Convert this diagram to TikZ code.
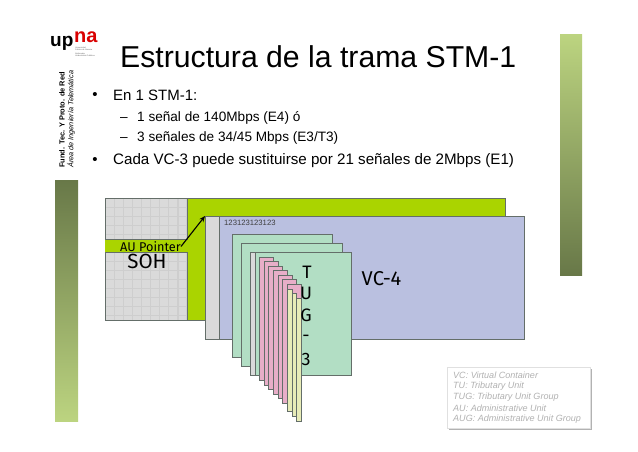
\documentclass[tikz,border=0pt]{standalone}
\usepackage{fontspec}
\setmainfont{Liberation Sans}
\newfontfamily\comicfont{Fira Sans}
\usetikzlibrary{arrows.meta,shadows}
\definecolor{gridbg}{RGB}{218,218,218}
\definecolor{gridln}{RGB}{206,206,206}
\definecolor{augreen}{RGB}{170,212,0}
\definecolor{vcblue}{RGB}{186,192,224}
\definecolor{tugreen}{RGB}{178,222,196}
\definecolor{pinkc}{RGB}{232,174,200}
\definecolor{yellowc}{RGB}{232,236,184}
\definecolor{edgec}{RGB}{100,110,105}
\definecolor{stripdark}{RGB}{104,120,72}
\definecolor{striplight}{RGB}{188,212,128}
\tikzset{
 x=1pt,y=-1pt,
 box/.style={draw=edgec,line width=.7pt},
 lbl/.style={inner sep=0pt,anchor=west,align=left},
 comic/.style={inner sep=0pt,font=\comicfont,text=black},
 legendline/.style={inner sep=0pt,anchor=west,font=\fontsize{9.05}{11}\selectfont\itshape,text=black!30},
 bul/.style={inner sep=0pt,font=\fontsize{15}{18}\selectfont},
}
\newcommand{\card}[5]{\fill[#5] (#1,#2) rectangle (#3,#4);\draw[box] (#1,#2) rectangle (#3,#4);}
\begin{document}
\begin{tikzpicture}
\useasboundingbox (0,0) rectangle (638,451);
\fill[white] (0,0) rectangle (638,451);
% side strips
\shade[top color=stripdark,bottom color=striplight] (55,180) rectangle (78,421);
\shade[top color=striplight,bottom color=stripdark] (560,34) rectangle (582,275);
% logo
\node[lbl,font=\fontsize{19}{19}\selectfont\bfseries] (up) at (50,43.5) {up};
\node[lbl,font=\fontsize{20}{20}\selectfont\bfseries,text=red!85!black] (na) at (74,37) {na};
\node[lbl,font=\fontsize{2}{2.4}\selectfont,text=black!60] (uni) at (75,48.5) {Universidad\\Pública de Navarra};
\node[lbl,font=\fontsize{2}{2.4}\selectfont,text=black!60] (uni2) at (75,54.5) {Nafarroako\\Unibertsitate Publikoa};
% rotated text
\node[inner sep=0pt,rotate=90,anchor=west,font=\fontsize{7.4}{10}\selectfont\bfseries] (fund) at (62,168) {Fund. Tec. Y Proto. de Red};
\node[inner sep=0pt,rotate=90,anchor=west,font=\fontsize{7.3}{10}\selectfont\itshape] (area) at (71,168) {Área de Ingeniería Telemática};
% title and bullets
\node[lbl,font=\fontsize{30.2}{34}\selectfont] (title) at (120,57) {Estructura de la trama STM-1};
\node[bul] (b1) at (95,96) {•};
\node[lbl,font=\fontsize{15}{18}\selectfont] (t1) at (113,95) {En 1 STM-1:};
\node[lbl,font=\fontsize{13.6}{16}\selectfont] (t2) at (120,117.5) {–\hspace{9.4pt}1 señal de 140Mbps (E4) ó};
\node[lbl,font=\fontsize{13.6}{16}\selectfont] (t3) at (120,137.5) {–\hspace{9.4pt}3 señales de 34/45 Mbps (E3/T3)};
\node[bul] (b2) at (95,161) {•};
\node[lbl,font=\fontsize{15.15}{18}\selectfont] (t4) at (113,160.5) {Cada VC-3 puede sustituirse por 21 señales de 2Mbps (E1)};
% SOH grid
\fill[gridbg] (105,198) rectangle (187,320);
\foreach \i in {114,123,...,186}{\draw[gridln,line width=.4pt] (\i,198) -- (\i,320);}
\foreach \j in {207,216,...,319}{\draw[gridln,line width=.4pt] (105,\j) -- (187,\j);}
\draw[gridln,line width=1pt] (178,198) -- (178,320);
\draw[edgec,line width=.6pt] (105,198) rectangle (187,320);
% AU region
\fill[augreen] (105,239) rectangle (187,252);
\fill[augreen] (187,198) rectangle (505,320);
\draw[box] (187,198) -- (505,198) -- (505,320) -- (187,320) -- (187,252) -- (105,252) (105,239) -- (187,239) -- (187,198);
% VC-4
\fill[vcblue] (205,216) rectangle (524,339);
\fill[gridbg] (205,216) rectangle (219,339);
\draw[box] (205,216) rectangle (524,339);
\draw[box] (219,216) -- (219,339);
\node[lbl,font=\fontsize{7.7}{8}\selectfont,text=black!75] (nums) at (224,223) {123123123123};
\coordinate (vccorner) at (205,216);
% TUG cards
\card{232.5}{234}{332.5}{357}{tugreen}
\card{241.5}{243}{342}{366}{tugreen}
\card{250.5}{252}{351}{375}{tugreen}
\fill[gridbg] (250.5,252) rectangle (255.5,375);
\draw[box] (250.5,252) rectangle (255.5,375);
% pink strips
\card{259.5}{257}{273.5}{380}{pinkc}
\card{264}{261.5}{278}{385}{pinkc}
\card{268.7}{266}{282.7}{389.5}{pinkc}
\card{273.3}{270.5}{287.3}{394}{pinkc}
\card{278}{275}{292}{398.5}{pinkc}
\card{282.7}{279.5}{296.7}{403}{pinkc}
\card{287.3}{284}{301}{298}{pinkc}
% yellow strips
\card{287.5}{289}{292}{411.5}{yellowc}
\card{292}{293.5}{296.5}{416.5}{yellowc}
\card{296.5}{298}{301}{421}{yellowc}
% labels
\node[comic,font=\comicfont\fontsize{18}{20}\selectfont] (t) at (307,272) {T};
\node[comic,font=\comicfont\fontsize{18}{20}\selectfont] (u) at (306,293) {U};
\node[comic,font=\comicfont\fontsize{18}{20}\selectfont] (g) at (306,315) {G};
\node[comic,font=\comicfont\fontsize{18}{20}\selectfont] (dash) at (306,338) {-};
\node[comic,font=\comicfont\fontsize{18}{20}\selectfont] (three) at (306,359) {3};
\node[comic,font=\comicfont\fontsize{20}{22}\selectfont] (vc) at (381.5,279) {VC-4};
\node[comic,font=\comicfont\fontsize{12.7}{14}\selectfont] (au) at (150.5,246.5) {AU Pointer};
\node[comic,font=\comicfont\fontsize{20.5}{23}\selectfont] (soh) at (147,261.5) {SOH};
\draw[line width=1.1pt,-{Stealth[length=6pt,width=5pt]}] (au.east) -- (vccorner);
% legend
\node[draw=black!12,fill=white,minimum width=143pt,minimum height=61pt,inner sep=0pt,drop shadow={shadow xshift=1.5pt,shadow yshift=-1.5pt,opacity=.6}] (legend) at (518.5,397.5) {};
\node[legendline] (l1) at (453,375.5) {VC: Virtual Container};
\node[legendline] (l2) at (453,386.5) {TU: Tributary Unit};
\node[legendline] (l3) at (453,397) {TUG: Tributary Unit Group};
\node[legendline] (l4) at (453,408) {AU: Administrative Unit};
\node[legendline] (l5) at (453,419) {AUG: Administrative Unit Group};
\end{tikzpicture}
\end{document}
